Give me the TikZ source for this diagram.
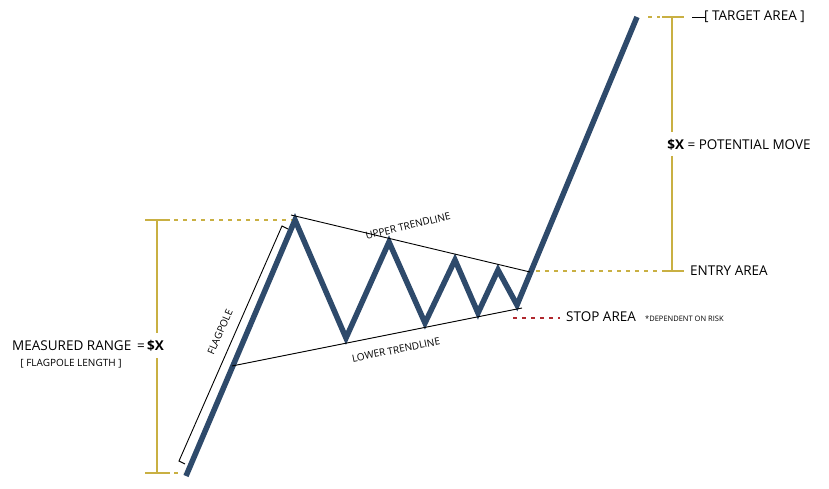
\documentclass[tikz,border=0pt]{standalone}
\usepackage{fontspec}
\usetikzlibrary{calc}
\setmainfont{Open Sans}
\begin{document}
\begin{tikzpicture}[x=1pt,y=-1pt,
  price/.style={draw=navy,line width=5.5pt,line join=miter,line cap=butt},
  gold/.style={draw=goldc,line width=1.6pt},
  golddot/.style={draw=goldc,line width=1.6pt,dash pattern=on 4pt off 5pt},
  trend/.style={draw=black,line width=0.9pt},
  lbl/.style={font=\fontsize{13.5}{15}\selectfont,inner sep=0pt},
  small/.style={font=\fontsize{10}{12}\selectfont,inner sep=0pt}]
\definecolor{navy}{HTML}{2E4A6B}
\definecolor{goldc}{HTML}{C9B043}
\definecolor{redc}{HTML}{B0282E}
\path[use as bounding box] (0,0) rectangle (829,489);
% price path
\draw[price] (186,476) -- (295,220) -- (346,338) -- (389,242) -- (425,323) -- (455,260) -- (478,313) -- (498,270) -- (517,305) -- (637,17);
% trendlines
\coordinate (ut1) at (291,215); \coordinate (ut2) at (530,272);
\coordinate (lt1) at (232,366); \coordinate (lt2) at (522,308);
\draw[trend] (ut1) -- (ut2);
\draw[trend] (lt1) -- (lt2);
\node[small,rotate=13.4] (ut) at (408,226) {UPPER TRENDLINE};
\node[small,rotate=11.3] (lt) at (396,350) {LOWER TRENDLINE};
% flagpole bracket
\coordinate (fb1) at (179,461); \coordinate (fb2) at (282,226);
\draw[trend] ($(fb1)+(6,3)$) -- (fb1) -- (fb2) -- ($(fb2)+(6,3)$);
\node[small,rotate=66.3] (fp) at (220,332) {FLAGPOLE};
% left dimension
\draw[gold] (145,220) -- (170,220);
\draw[gold] (145,473) -- (170,473);
\draw[gold] (157,220) -- (157,333);
\draw[gold] (157,358) -- (157,473);
\draw[golddot] (174,220) -- (292,220);
\draw[golddot] (174,473) -- (183,473);
\node[lbl] (mr) at (88,346) {MEASURED RANGE \,=\,\textbf{\$X}};
\node[small] (fl) at (71,364) {[ FLAGPOLE LENGTH ]};
% right dimension
\draw[gold] (662,17) -- (684,17);
\draw[gold] (662,271) -- (684,271);
\draw[gold] (672,17) -- (672,132);
\draw[gold] (672,156) -- (672,271);
\draw[golddot] (648,17) -- (660,17);
\draw[golddot] (536,271) -- (660,271);
\node[lbl,fill=white,inner xsep=2pt] (pm) at (739,145) {\textbf{\$X} = POTENTIAL MOVE};
\draw[trend] (692,17) -- (705,17);
\node[lbl,anchor=west] (ta) at (704,17) {[ TARGET AREA ]};
\node[lbl,anchor=west] (ea) at (690,271) {ENTRY AREA};
\draw[draw=redc,line width=1.4pt,dash pattern=on 4pt off 5pt] (513,318) -- (560,318);
\node[lbl,anchor=west] (sa) at (566,317) {STOP AREA};
\node[anchor=west,inner sep=0pt,font=\fontsize{7.5}{9}\selectfont] (dr) at (645,318.5) {*DEPENDENT ON RISK};
\end{tikzpicture}
\end{document}
